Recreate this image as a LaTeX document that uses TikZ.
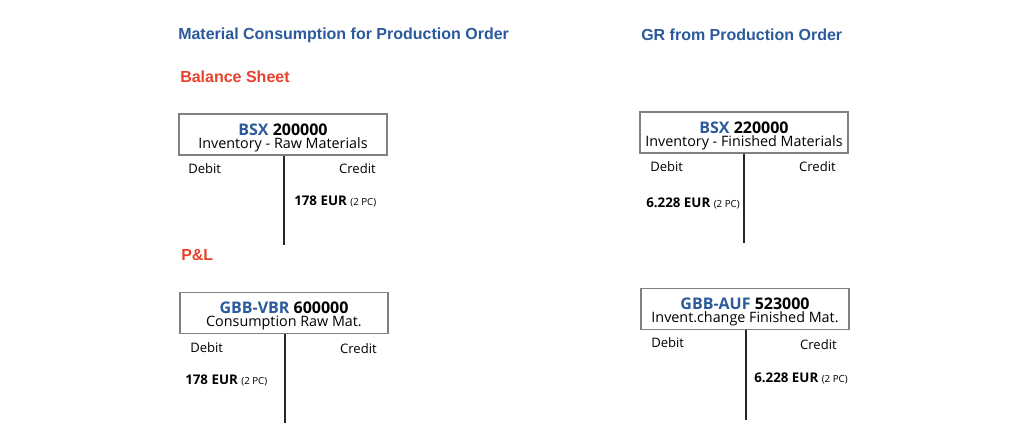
\documentclass[tikz,border=0pt]{standalone}
\usepackage{fontspec}
\setmainfont{Open Sans}
\newfontfamily\headfont{Liberation Sans}
\usepackage{tikz}
\usetikzlibrary{positioning}
\usepackage{xcolor}
\definecolor{titleblue}{HTML}{2A5A9B}
\definecolor{titlered}{HTML}{E8412C}
\definecolor{boxgray}{HTML}{808080}
\newcommand{\acctno}[2]{{\fontsize{12}{10}\selectfont\bfseries\rule{0pt}{13.5pt}\textcolor{titleblue}{#1} #2}}
\newcommand{\pcs}{{\normalfont\fontsize{7.3}{8}\selectfont (2 PC)}}

\begin{document}
\begin{tikzpicture}[x=0.75pt,y=-0.75pt,
  heading/.style={inner sep=0pt, anchor=west, font=\headfont\bfseries\fontsize{12}{14}\selectfont},
  account/.style={draw=boxgray, line width=0.9pt, minimum width=156pt, minimum height=30.75pt, inner sep=0pt, align=center, font=\fontsize{10.75}{10}\selectfont},
  side/.style={inner sep=0pt, font=\fontsize{9.8}{11}\selectfont},
  amount/.style={inner sep=0pt, anchor=west, font=\bfseries\fontsize{10}{11}\selectfont},
  tline/.style={line width=0.9pt, color=black!85}]
\useasboundingbox (0,0) rectangle (1024,427);
% headings
\node[heading, text=titleblue] (h1) at (178,35) {Material Consumption for Production Order};
\node[heading, text=titleblue] (h2) at (641,35) {GR from Production Order};
\node[heading, text=titlered] (bsh) at (180,77) {Balance Sheet};
\node[heading, text=titlered] (plh) at (181,255) {P\&L};
% BSX 200000
\node[account] (a1) at (283,134.5) {\acctno{BSX}{200000}\\Inventory - Raw Materials};
\coordinate (a1end) at (284,245);
\draw[tline] (a1.south -| a1end) -- (a1end);
\node[side, anchor=west] (a1d) at (188,169) {Debit};
\node[side, anchor=east] (a1c) at (376,169) {Credit};
\node[amount] (a1x) at (294,201) {178 EUR \pcs};
% GBB-VBR 600000
\node[account] (a2) at (284,313) {\acctno{GBB-VBR}{600000}\\Consumption Raw Mat.};
\coordinate (a2end) at (285,423);
\draw[tline] (a2.south -| a2end) -- (a2end);
\node[side, anchor=west] (a2d) at (190,348) {Debit};
\node[side, anchor=east] (a2c) at (377,349) {Credit};
\node[amount] (a2x) at (185,380) {178 EUR \pcs};
% BSX 220000
\node[account] (a3) at (744,132.5) {\acctno{BSX}{220000}\\Inventory - Finished Materials};
\coordinate (a3end) at (744,243);
\draw[tline] (a3.south -| a3end) -- (a3end);
\node[side, anchor=west] (a3d) at (650,167) {Debit};
\node[side, anchor=east] (a3c) at (836,167) {Credit};
\node[amount] (a3x) at (646,203) {6.228 EUR \pcs};
% GBB-AUF 523000
\node[account] (a4) at (745,309) {\acctno{GBB-AUF}{523000}\\Invent.change Finished Mat.};
\coordinate (a4end) at (746,420);
\draw[tline] (a4.south -| a4end) -- (a4end);
\node[side, anchor=west] (a4d) at (651,343) {Debit};
\node[side, anchor=east] (a4c) at (837,345) {Credit};
\node[amount] (a4x) at (754,378) {6.228 EUR \pcs};
\end{tikzpicture}
\end{document}
